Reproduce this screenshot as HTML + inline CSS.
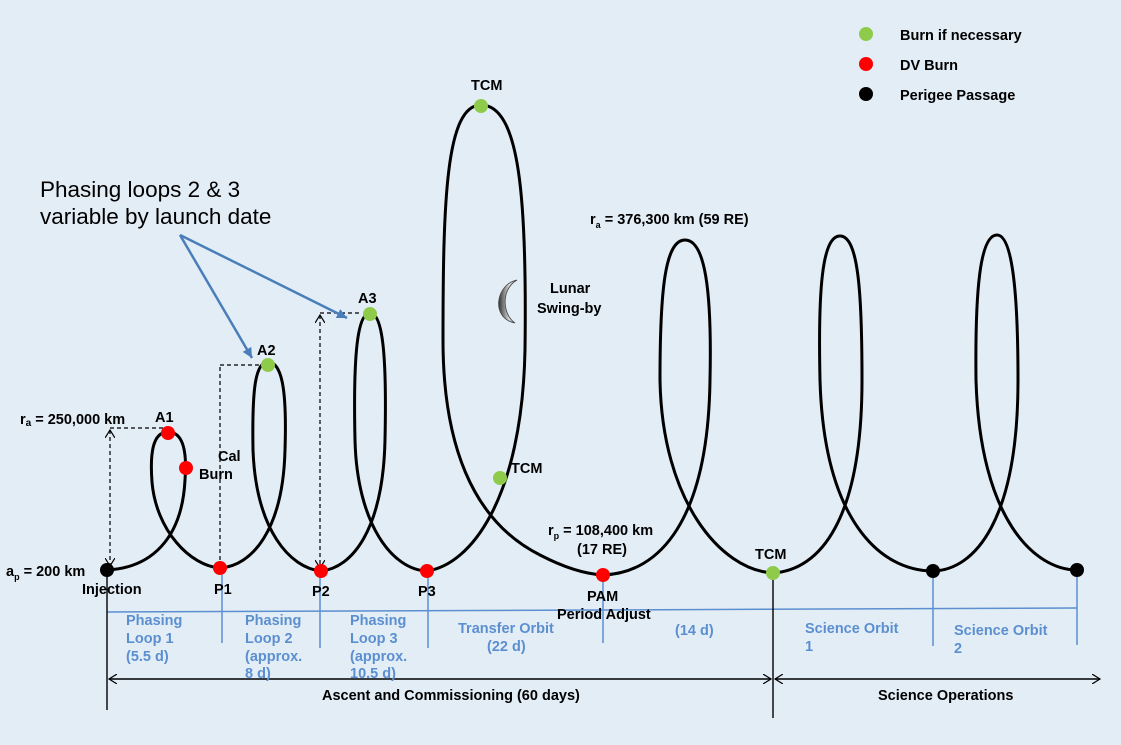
<!DOCTYPE html>
<html><head><meta charset="utf-8"><style>
html,body{margin:0;padding:0;background:#e3edf6;}
svg{display:block;font-family:"Liberation Sans",sans-serif;}
.b{font-weight:bold;font-size:14.5px;fill:#000;}
.bl{font-weight:bold;font-size:14.5px;fill:#5b8fd0;}
</style></head><body>
<svg width="1121" height="745" viewBox="0 0 1121 745" xmlns="http://www.w3.org/2000/svg">
<defs>
<marker id="ahs" markerWidth="10" markerHeight="10" refX="8" refY="5" orient="auto-start-reverse" markerUnits="userSpaceOnUse"><path d="M0,0 L8,5 L0,10" fill="none" stroke="#000" stroke-width="1.2"/></marker>
<marker id="bah" markerWidth="12" markerHeight="12" refX="10" refY="6" orient="auto" markerUnits="userSpaceOnUse"><path d="M0,1 L10,6 L0,11 z" fill="#4a7ebb"/></marker>
<linearGradient id="moon" x1="0" x2="1"><stop offset="0" stop-color="#333"/><stop offset="0.6" stop-color="#ddd"/><stop offset="1" stop-color="#888"/></linearGradient>
</defs>
<rect width="1121" height="745" fill="#e3edf6"/>

<path fill="none" stroke="#000" stroke-width="3" stroke-linecap="round" d="
M107,570 C150,568 182,540 185,480 C188,440 178,432 168,432 C152,432 150,455 152,482 C156,530 190,566 220,568
C252,566 283,530 285,450 C287,390 282,362 268,362 C255,362 252,390 253,450 C256,530 290,568 321,571
C352,568 383,530 385,440 C387,350 382,313 370,313 C358,313 353,350 355,440 C357,525 393,570 427,571
C470,565 522,500 525,350 C527,200 520,105 481,105 C446,105 443,200 443,340 C443,440 470,520 540,555 C565,568 585,574 603,575
C660,573 708,520 710,380 C712,290 705,240 685,240 C665,240 660,290 660,380 C662,500 720,570 773,573
C820,570 862,520 862,380 C862,290 858,236 840,236 C822,236 818,290 820,380 C824,520 880,571 933,571
C975,570 1018,520 1018,380 C1018,290 1012,235 997,235 C980,235 975,290 976,380 C980,520 1035,570 1077,570"/>

<g stroke="#000" stroke-width="1.2" stroke-dasharray="4,3" fill="none">
<path d="M110,428 H165"/><path d="M110,430 V566" marker-start="url(#ahs)" marker-end="url(#ahs)"/>
<path d="M220,365 H262"/><path d="M220,367 V566"/>
<path d="M320,313 H362"/><path d="M320,315 V568" marker-start="url(#ahs)" marker-end="url(#ahs)"/>
</g>

<g stroke="#5b8fd0" stroke-width="1.5" fill="none">
<path d="M107,612 L1077,608"/>
<path d="M222,575 V643"/><path d="M320,575 V648"/><path d="M428,575 V648"/><path d="M603,578 V643"/><path d="M933,575 V646"/><path d="M1077,575 V645"/>
</g>
<g stroke="#000" stroke-width="1.4" fill="none">
<path d="M107,570 V710"/><path d="M773,575 V718"/>
<path d="M109,679 H771" marker-start="url(#ahs)" marker-end="url(#ahs)"/>
<path d="M775,679 H1100" marker-start="url(#ahs)" marker-end="url(#ahs)"/>
</g>

<g stroke="#4a7ebb" stroke-width="2.5" fill="none">
<path d="M180,235 L252,358" marker-end="url(#bah)"/>
<path d="M180,235 L347,318" marker-end="url(#bah)"/>
</g>
<text x="40" y="197" font-size="22.5" fill="#000">Phasing loops 2 &amp; 3</text>
<text x="40" y="224" font-size="22.5" fill="#000">variable by launch date</text>

<path d="M517,280 C496,284 490,318 515,323 C503,315 500,290 517,280 z" fill="url(#moon)" stroke="#444" stroke-width="0.8"/>

<g>
<circle cx="107" cy="570" r="7" fill="#000"/>
<circle cx="168" cy="433" r="7" fill="#f00"/>
<circle cx="186" cy="468" r="7" fill="#f00"/>
<circle cx="220" cy="568" r="7" fill="#f00"/>
<circle cx="268" cy="365" r="7" fill="#8fcb4a"/>
<circle cx="321" cy="571" r="7" fill="#f00"/>
<circle cx="370" cy="314" r="7" fill="#8fcb4a"/>
<circle cx="427" cy="571" r="7" fill="#f00"/>
<circle cx="481" cy="106" r="7" fill="#8fcb4a"/>
<circle cx="500" cy="478" r="7" fill="#8fcb4a"/>
<circle cx="603" cy="575" r="7" fill="#f00"/>
<circle cx="773" cy="573" r="7" fill="#8fcb4a"/>
<circle cx="933" cy="571" r="7" fill="#000"/>
<circle cx="1077" cy="570" r="7" fill="#000"/>
<circle cx="866" cy="34" r="7" fill="#8fcb4a"/>
<circle cx="866" cy="64" r="7" fill="#f00"/>
<circle cx="866" cy="94" r="7" fill="#000"/>
</g>

<g class="b">
<text x="900" y="40">Burn if necessary</text>
<text x="900" y="70">DV Burn</text>
<text x="900" y="100">Perigee Passage</text>
<text x="471" y="90">TCM</text>
<text x="550" y="293">Lunar</text>
<text x="537" y="313">Swing-by</text>
<text x="590" y="224">r<tspan font-size="9" dy="4">a</tspan><tspan dy="-4"> = 376,300 km (59 RE)</tspan></text>
<text x="358" y="303">A3</text>
<text x="257" y="355">A2</text>
<text x="155" y="422">A1</text>
<text x="20" y="424">r<tspan font-size="10" dy="2">a</tspan><tspan dy="-2"> = 250,000 km</tspan></text>
<text x="218" y="461">Cal</text>
<text x="199" y="479">Burn</text>
<text x="511" y="473">TCM</text>
<text x="548" y="535">r<tspan font-size="9" dy="4">p</tspan><tspan dy="-4"> = 108,400 km</tspan></text>
<text x="577" y="554">(17 RE)</text>
<text x="755" y="559">TCM</text>
<text x="6" y="576">a<tspan font-size="9" dy="4">p</tspan><tspan dy="-4"> = 200 km</tspan></text>
<text x="82" y="594">Injection</text>
<text x="214" y="594">P1</text>
<text x="312" y="596">P2</text>
<text x="418" y="596">P3</text>
<text x="587" y="601">PAM</text>
<text x="557" y="619">Period Adjust</text>
<text x="322" y="700">Ascent and Commissioning (60 days)</text>
<text x="878" y="700">Science Operations</text>
</g>
<g class="bl">
<text x="126" y="625">Phasing</text><text x="126" y="643">Loop 1</text><text x="126" y="661">(5.5 d)</text>
<text x="245" y="625">Phasing</text><text x="245" y="643">Loop 2</text><text x="245" y="661">(approx.</text><text x="245" y="678">8 d)</text>
<text x="350" y="625">Phasing</text><text x="350" y="643">Loop 3</text><text x="350" y="661">(approx.</text><text x="350" y="678">10.5 d)</text>
<text x="458" y="633">Transfer Orbit</text><text x="487" y="651">(22 d)</text>
<text x="675" y="635">(14 d)</text>
<text x="805" y="633">Science Orbit</text><text x="805" y="651">1</text>
<text x="954" y="635">Science Orbit</text><text x="954" y="653">2</text>
</g>
</svg>
</body></html>
